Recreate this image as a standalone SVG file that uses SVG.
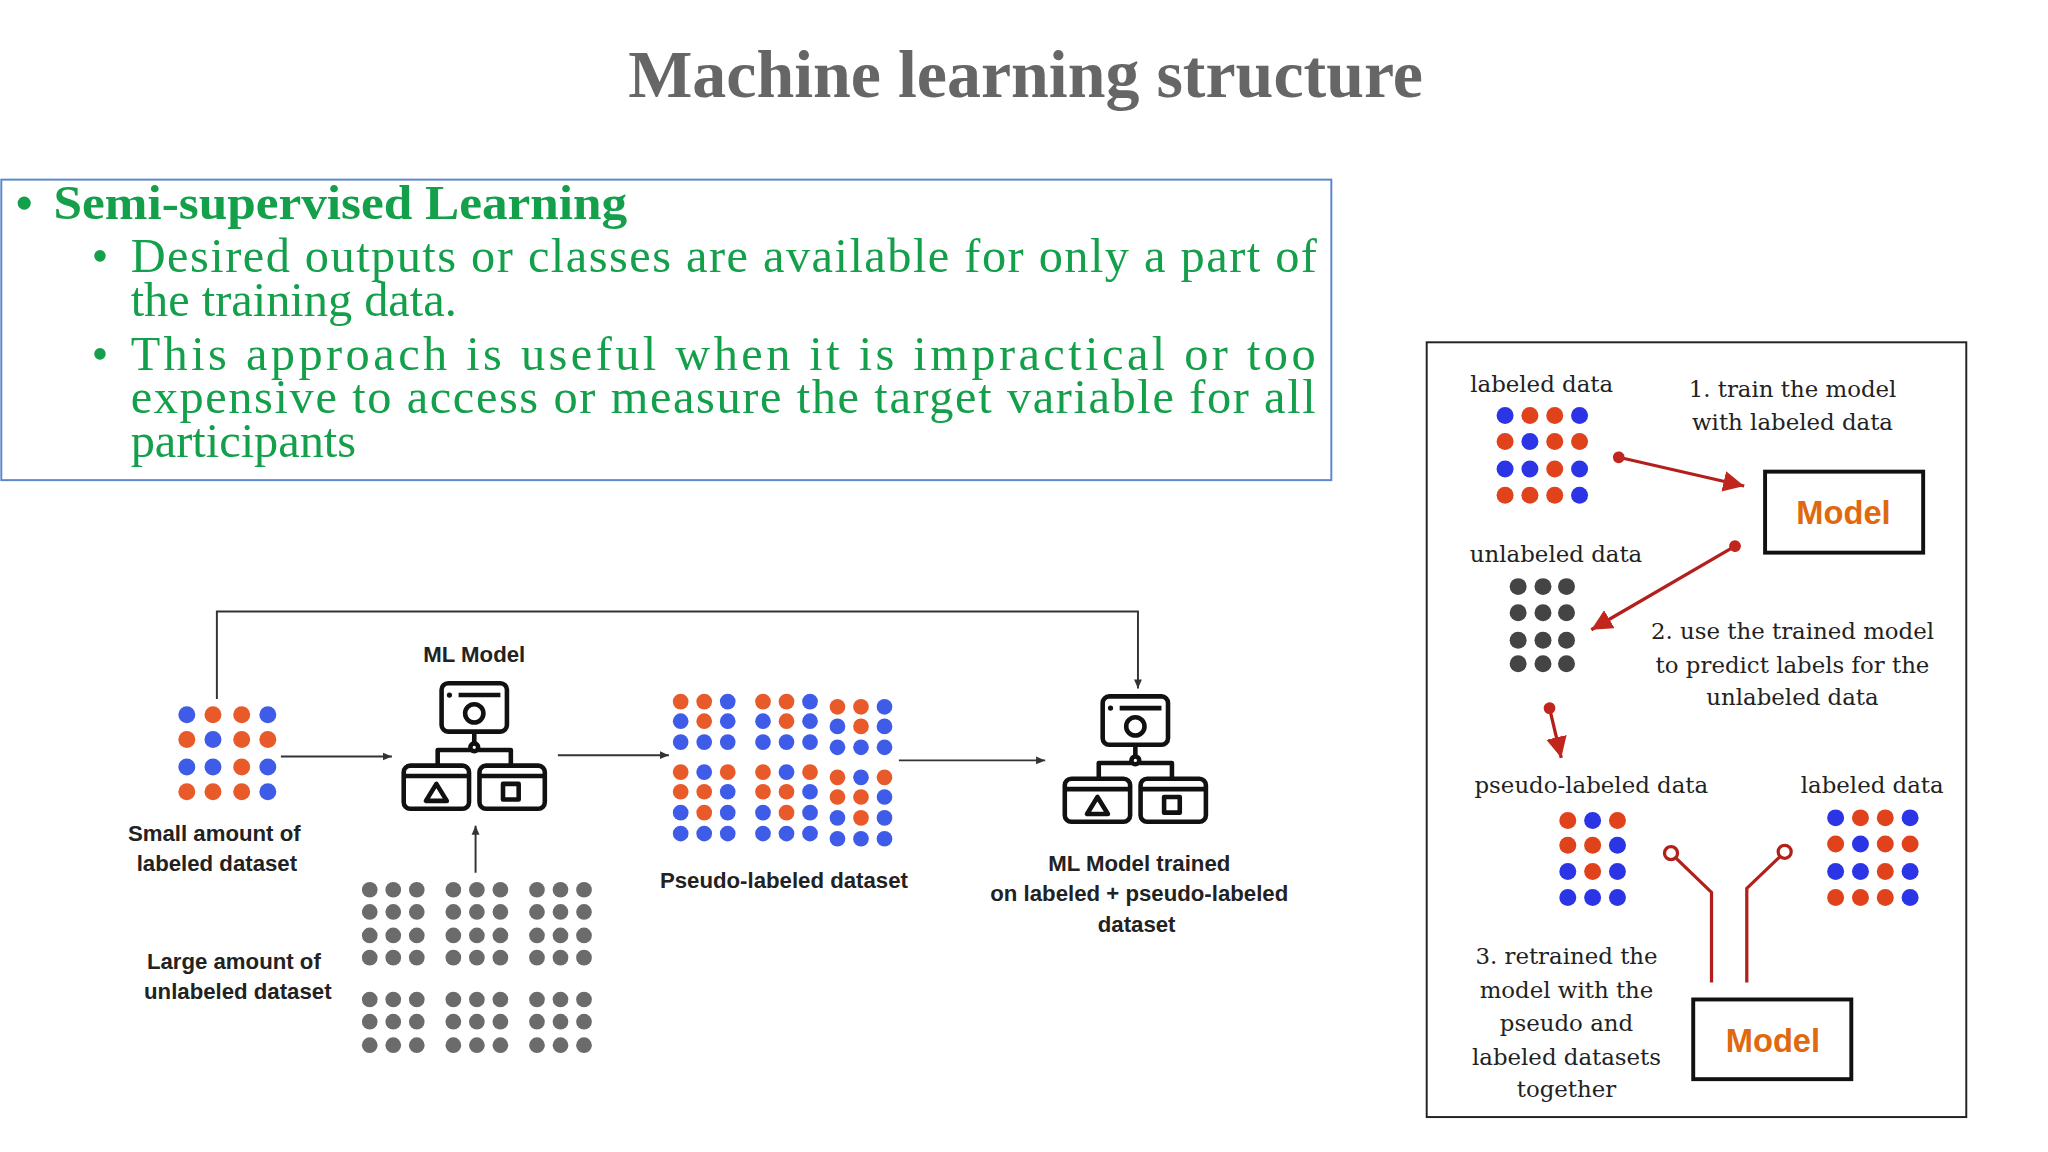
<svg xmlns="http://www.w3.org/2000/svg" xmlns:xlink="http://www.w3.org/1999/xlink" width="2048" height="1152" viewBox="0 0 2048 1152">
<style>
.b{fill:#3f5ce8}.o{fill:#e85a2a}.g{fill:#6b6b6b}.d{fill:#444}
.rb{fill:#2b35e6}.ro{fill:#e0421c}
.lbl{font-family:"Liberation Sans",Arial,sans-serif;font-weight:bold;font-size:17px;fill:#222;text-anchor:middle}
.rp{font-family:"DejaVu Serif",serif;font-size:17.5px;fill:#222;text-anchor:middle}
.grn{font-family:"Liberation Serif","Times New Roman",serif;fill:#14a04a;font-size:37px}
.ln{stroke:#333;stroke-width:1.5;fill:none}
.red{stroke:#b3201c;stroke-width:2.5;fill:none}
.ic{stroke:#111;stroke-width:3.5;fill:none;stroke-linejoin:round}
.mdl{font-family:"Liberation Sans",Arial,sans-serif;font-weight:bold;font-size:25px;fill:#e0690f;text-anchor:middle}
</style>
<defs>
<marker id="ah" markerWidth="8" markerHeight="8" refX="7" refY="4" orient="auto" markerUnits="userSpaceOnUse"><path d="M0,1 L7,4 L0,7 z" fill="#333"/></marker>
<marker id="rh" markerWidth="18" markerHeight="16" refX="16" refY="8" orient="auto" markerUnits="userSpaceOnUse"><path d="M0,0 L16,8 L0,16 z" fill="#c0261e"/></marker>
<marker id="rs" markerWidth="10" markerHeight="10" refX="5" refY="5" orient="auto" markerUnits="userSpaceOnUse"><circle cx="5" cy="5" r="4.5" fill="#c0261e"/></marker>
<g id="icon">
<rect class="ic" x="-25" y="0" width="50" height="37" rx="5"/>
<line class="ic" x1="-12" y1="9" x2="20" y2="9"/><circle cx="-19" cy="9" r="2" fill="#111"/>
<circle class="ic" cx="0" cy="23" r="7"/>
<line class="ic" x1="0" y1="37" x2="0" y2="46"/><circle class="ic" cx="0" cy="49" r="3" fill="#fff"/>
<path class="ic" d="M-3,51 H-28 V63 M3,51 H28 V63"/>
<rect class="ic" x="-54" y="63" width="50" height="33" rx="5"/>
<rect class="ic" x="4" y="63" width="50" height="33" rx="5"/>
<line class="ic" x1="-54" y1="71" x2="-4" y2="71"/><line class="ic" x1="4" y1="71" x2="54" y2="71"/>
<path class="ic" d="M-29,77 L-37,90 L-21,90 Z"/>
<rect class="ic" x="22" y="77" width="12" height="12"/>
</g>
</defs>
<rect width="2048" height="1152" fill="#fff"/>
<g transform="scale(1.3065)">
<g id="title"><text x="785" y="74" text-anchor="middle" font-family="Liberation Serif,serif" font-weight="bold" font-size="52" fill="#666">Machine learning structure</text></g>
<g id="textbox">
<rect x="1" y="137.5" width="1018" height="230" fill="none" stroke="#5a88cc" stroke-width="1.5"/>
<text class="grn" x="12" y="168" font-weight="bold">•</text>
<text class="grn" x="41" y="168" font-weight="bold" font-size="40" textLength="439" lengthAdjust="spacingAndGlyphs">Semi-supervised Learning</text>
<text class="grn" x="70" y="208">•</text><text class="grn" x="100" y="208" textLength="908" lengthAdjust="spacing">Desired outputs or classes are available for only a part of</text>
<text class="grn" x="100" y="242">the training data.</text>
<text class="grn" x="70" y="283">•</text><text class="grn" x="100" y="283" textLength="907" lengthAdjust="spacing">This approach is useful when it is impractical or too</text>
<text class="grn" x="100" y="316" textLength="907" lengthAdjust="spacing">expensive to access or measure the target variable for all</text>
<text class="grn" x="100" y="350">participants</text>
</g>
<g id="connectors">
<path class="ln" d="M166,535 V468 H871 V527" marker-end="url(#ah)"/>
<line class="ln" x1="215" y1="579" x2="300" y2="579" marker-end="url(#ah)"/>
<line class="ln" x1="364" y1="668" x2="364" y2="632" marker-end="url(#ah)"/>
<line class="ln" x1="427" y1="578" x2="512" y2="578" marker-end="url(#ah)"/>
<line class="ln" x1="688" y1="582" x2="800" y2="582" marker-end="url(#ah)"/>
<line class="red" x1="1239" y1="350" x2="1335" y2="372" marker-start="url(#rs)" marker-end="url(#rh)"/>
<line class="red" x1="1328" y1="418" x2="1218" y2="482" marker-start="url(#rs)" marker-end="url(#rh)"/>
<line class="red" x1="1186" y1="542" x2="1195" y2="580" marker-start="url(#rs)" marker-end="url(#rh)"/>
<path class="red" d="M1283,657 L1310,683 V752"/><circle cx="1279" cy="653" r="5" fill="#fff" stroke="#b3201c" stroke-width="2.5"/>
<path class="red" d="M1362,656 L1337,680 V752"/><circle cx="1366" cy="652" r="5" fill="#fff" stroke="#b3201c" stroke-width="2.5"/>
</g>
<g id="small-labeled">
<circle class="b" cx="143" cy="547" r="6.5"/><circle class="o" cx="163" cy="547" r="6.5"/><circle class="o" cx="185" cy="547" r="6.5"/><circle class="b" cx="205" cy="547" r="6.5"/>
<circle class="o" cx="143" cy="566" r="6.5"/><circle class="b" cx="163" cy="566" r="6.5"/><circle class="o" cx="185" cy="566" r="6.5"/><circle class="o" cx="205" cy="566" r="6.5"/>
<circle class="b" cx="143" cy="587" r="6.5"/><circle class="b" cx="163" cy="587" r="6.5"/><circle class="o" cx="185" cy="587" r="6.5"/><circle class="b" cx="205" cy="587" r="6.5"/>
<circle class="o" cx="143" cy="606" r="6.5"/><circle class="o" cx="163" cy="606" r="6.5"/><circle class="o" cx="185" cy="606" r="6.5"/><circle class="b" cx="205" cy="606" r="6.5"/>
<text class="lbl" x="164" y="644">Small amount of</text><text class="lbl" x="166" y="667">labeled dataset</text>
</g>
<g id="ml-model"><text class="lbl" x="363" y="507">ML Model</text><use xlink:href="#icon" x="363" y="523"/></g>
<g id="unlabeled" class="g">
<g id="ug"><circle cx="283" cy="681" r="6"/><circle cx="301" cy="681" r="6"/><circle cx="319" cy="681" r="6"/>
<circle cx="283" cy="698" r="6"/><circle cx="301" cy="698" r="6"/><circle cx="319" cy="698" r="6"/>
<circle cx="283" cy="716" r="6"/><circle cx="301" cy="716" r="6"/><circle cx="319" cy="716" r="6"/>
<circle cx="283" cy="733" r="6"/><circle cx="301" cy="733" r="6"/><circle cx="319" cy="733" r="6"/>
<circle cx="283" cy="765" r="6"/><circle cx="301" cy="765" r="6"/><circle cx="319" cy="765" r="6"/>
<circle cx="283" cy="782" r="6"/><circle cx="301" cy="782" r="6"/><circle cx="319" cy="782" r="6"/>
<circle cx="283" cy="800" r="6"/><circle cx="301" cy="800" r="6"/><circle cx="319" cy="800" r="6"/></g>
<use xlink:href="#ug" x="64"/><use xlink:href="#ug" x="128"/>
</g>
<text class="lbl" x="179" y="742">Large amount of</text><text class="lbl" x="182" y="765">unlabeled dataset</text>
<g id="pseudo">
<g id="pg"><circle class="o" cx="521" cy="537" r="6"/><circle class="o" cx="539" cy="537" r="6"/><circle class="b" cx="557" cy="537" r="6"/>
<circle class="b" cx="521" cy="552" r="6"/><circle class="o" cx="539" cy="552" r="6"/><circle class="b" cx="557" cy="552" r="6"/>
<circle class="b" cx="521" cy="568" r="6"/><circle class="b" cx="539" cy="568" r="6"/><circle class="b" cx="557" cy="568" r="6"/>
<circle class="o" cx="521" cy="591" r="6"/><circle class="b" cx="539" cy="591" r="6"/><circle class="o" cx="557" cy="591" r="6"/>
<circle class="o" cx="521" cy="606" r="6"/><circle class="o" cx="539" cy="606" r="6"/><circle class="b" cx="557" cy="606" r="6"/>
<circle class="b" cx="521" cy="622" r="6"/><circle class="o" cx="539" cy="622" r="6"/><circle class="b" cx="557" cy="622" r="6"/>
<circle class="b" cx="521" cy="638" r="6"/><circle class="b" cx="539" cy="638" r="6"/><circle class="b" cx="557" cy="638" r="6"/></g>
<use xlink:href="#pg" x="63"/><use xlink:href="#pg" x="120" y="4"/>
<text class="lbl" x="600" y="680">Pseudo-labeled dataset</text>
</g>
<g id="ml-trained"><use xlink:href="#icon" x="869" y="533"/>
<text class="lbl" x="872" y="667">ML Model trained</text><text class="lbl" x="872" y="690">on labeled + pseudo-labeled</text><text class="lbl" x="870" y="713">dataset</text></g>
<g id="panel">
<rect x="1092" y="262" width="413" height="593" fill="none" stroke="#222" stroke-width="1.5"/>
</g>
<g id="p-labeled">
<text class="rp" x="1180" y="300">labeled data</text>
<g id="lg"><circle class="rb" cx="1152" cy="318" r="6.5"/><circle class="ro" cx="1171" cy="318" r="6.5"/><circle class="ro" cx="1190" cy="318" r="6.5"/><circle class="rb" cx="1209" cy="318" r="6.5"/>
<circle class="ro" cx="1152" cy="338" r="6.5"/><circle class="rb" cx="1171" cy="338" r="6.5"/><circle class="ro" cx="1190" cy="338" r="6.5"/><circle class="ro" cx="1209" cy="338" r="6.5"/>
<circle class="rb" cx="1152" cy="359" r="6.5"/><circle class="rb" cx="1171" cy="359" r="6.5"/><circle class="ro" cx="1190" cy="359" r="6.5"/><circle class="rb" cx="1209" cy="359" r="6.5"/>
<circle class="ro" cx="1152" cy="379" r="6.5"/><circle class="ro" cx="1171" cy="379" r="6.5"/><circle class="ro" cx="1190" cy="379" r="6.5"/><circle class="rb" cx="1209" cy="379" r="6.5"/></g>
</g>
<text class="rp" x="1372" y="304">1. train the model</text><text class="rp" x="1372" y="329">with labeled data</text>
<g id="model1"><rect x="1351" y="361" width="121" height="62" fill="#fff" stroke="#111" stroke-width="3"/><text class="mdl" x="1411" y="401">Model</text></g>
<g id="p-unlabeled" class="d">
<text class="rp" x="1191" y="430">unlabeled data</text>
<circle cx="1162" cy="449" r="6.5"/><circle cx="1181" cy="449" r="6.5"/><circle cx="1199" cy="449" r="6.5"/>
<circle cx="1162" cy="469" r="6.5"/><circle cx="1181" cy="469" r="6.5"/><circle cx="1199" cy="469" r="6.5"/>
<circle cx="1162" cy="490" r="6.5"/><circle cx="1181" cy="490" r="6.5"/><circle cx="1199" cy="490" r="6.5"/>
<circle cx="1162" cy="508" r="6.5"/><circle cx="1181" cy="508" r="6.5"/><circle cx="1199" cy="508" r="6.5"/>
</g>
<text class="rp" x="1372" y="489">2. use the trained model</text><text class="rp" x="1372" y="515">to predict labels for the</text><text class="rp" x="1372" y="540">unlabeled data</text>
<g id="p-pseudo">
<text class="rp" x="1218" y="607">pseudo-labeled data</text>
<circle class="ro" cx="1200" cy="628" r="6.5"/><circle class="rb" cx="1219" cy="628" r="6.5"/><circle class="ro" cx="1238" cy="628" r="6.5"/>
<circle class="ro" cx="1200" cy="647" r="6.5"/><circle class="ro" cx="1219" cy="647" r="6.5"/><circle class="rb" cx="1238" cy="647" r="6.5"/>
<circle class="rb" cx="1200" cy="667" r="6.5"/><circle class="ro" cx="1219" cy="667" r="6.5"/><circle class="rb" cx="1238" cy="667" r="6.5"/>
<circle class="rb" cx="1200" cy="687" r="6.5"/><circle class="rb" cx="1219" cy="687" r="6.5"/><circle class="rb" cx="1238" cy="687" r="6.5"/>
</g>
<g id="p-labeled2"><text class="rp" x="1433" y="607">labeled data</text><use xlink:href="#lg" x="253" y="308"/></g>
<g id="model2"><rect x="1296" y="765" width="121" height="61" fill="#fff" stroke="#111" stroke-width="3"/><text class="mdl" x="1357" y="805">Model</text></g>
<text class="rp" x="1199" y="738">3. retrained the</text><text class="rp" x="1199" y="764">model with the</text><text class="rp" x="1199" y="789">pseudo and</text><text class="rp" x="1199" y="815">labeled datasets</text><text class="rp" x="1199" y="840">together</text>
</g>
</svg>
